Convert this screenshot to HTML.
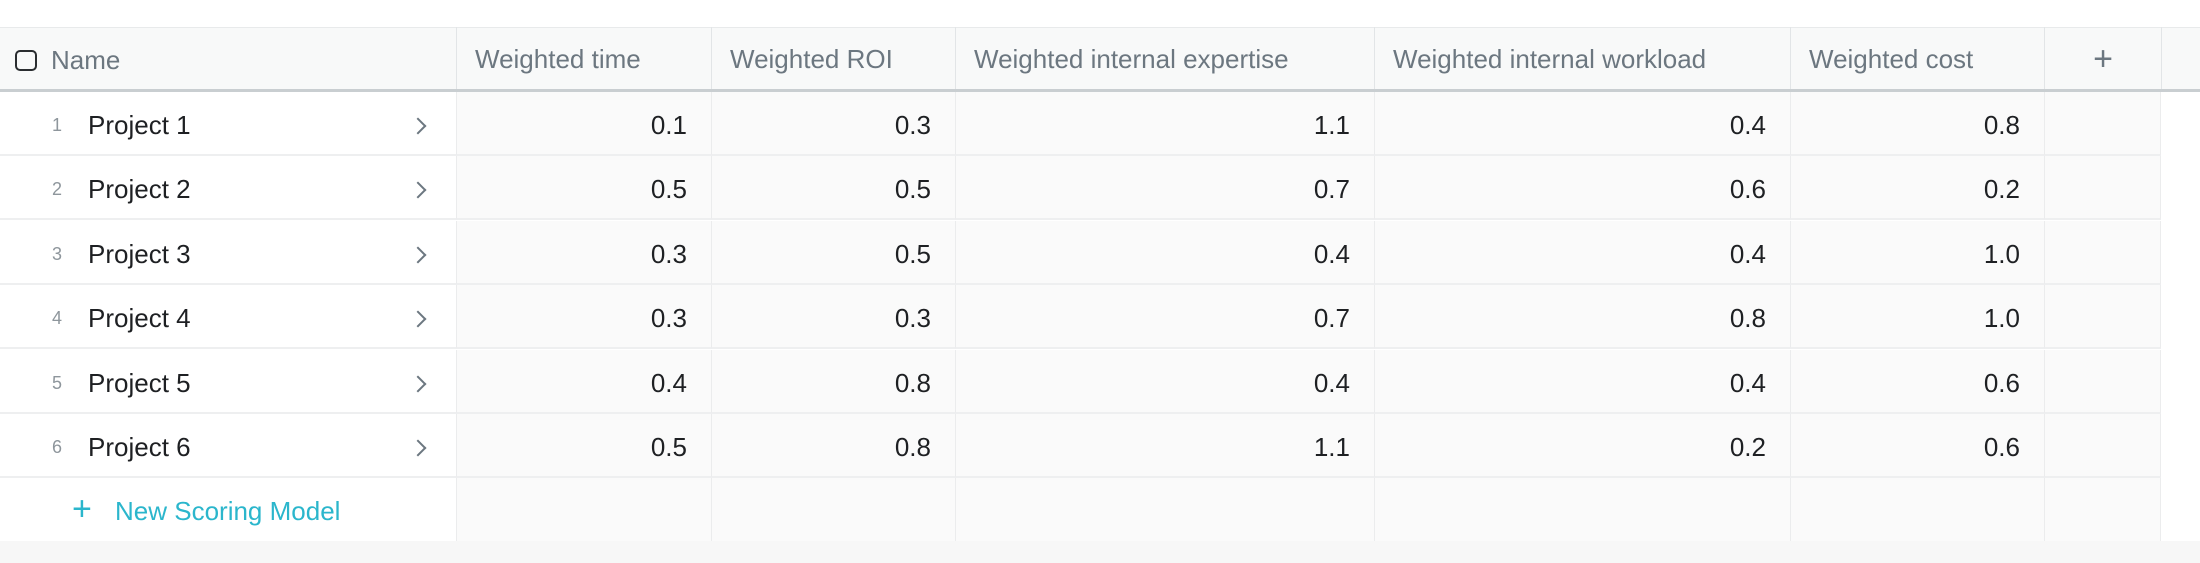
<!DOCTYPE html>
<html><head><meta charset="utf-8"><style>
*{margin:0;padding:0;box-sizing:border-box}
body{width:2200px;height:563px;background:#fff;font-family:"Liberation Sans",sans-serif;position:relative;overflow:hidden}
.a{position:absolute}
.h{position:absolute;top:27px;height:62px;line-height:64px;font-size:26px;color:#6c7780;padding-left:18px;border-left:1px solid #e2e5e7}
.cell{position:absolute;height:64px;background:#fafafa;border-left:1px solid #ebeced;border-bottom:2px solid #eeeff0;text-align:right;padding-right:24px;font-size:26px;color:#1e2023;line-height:67px}
.nc{position:absolute;left:0;width:456px;height:64px;background:#fff;border-bottom:2px solid #eeeff0}
.num{position:absolute;left:52px;font-size:18px;color:#8e969c;line-height:67px;top:0}
.nm{position:absolute;left:88px;font-size:26px;color:#1e2023;line-height:67px;top:0}
.chev{position:absolute;left:412px;top:28px;width:12px;height:12px;border-right:2px solid #6c7780;border-top:2px solid #6c7780;transform:rotate(45deg)}
</style></head><body>
<div class="a" style="left:0;top:541px;width:2200px;height:22px;background:#f7f7f7"></div>
<div class="a" style="left:0;top:27px;width:2200px;height:65px;background:#f8f9f9;border-top:1px solid #e8eaeb;border-bottom:3px solid #c9ced1"></div>
<div class="a" style="left:15px;top:50px;width:22px;height:21px;border:2px solid #2a2d30;border-radius:5px"></div>
<div class="a" style="left:51px;top:28px;line-height:64px;font-size:26px;color:#6c7780">Name</div>
<div class="h" style="left:456px">Weighted time</div>
<div class="h" style="left:711px">Weighted ROI</div>
<div class="h" style="left:955px">Weighted internal expertise</div>
<div class="h" style="left:1374px">Weighted internal workload</div>
<div class="h" style="left:1790px">Weighted cost</div>
<div class="h" style="left:2044px;width:117px;padding:0;text-align:center;font-size:34px">+</div>
<div class="h" style="left:2161px;width:39px"></div>

<div class="nc" style="top:92px"><div class="num">1</div><div class="nm">Project 1</div><div class="chev"></div></div>
<div class="cell" style="top:92px;left:456px;width:255px">0.1</div>
<div class="cell" style="top:92px;left:711px;width:244px">0.3</div>
<div class="cell" style="top:92px;left:955px;width:419px">1.1</div>
<div class="cell" style="top:92px;left:1374px;width:416px">0.4</div>
<div class="cell" style="top:92px;left:1790px;width:254px">0.8</div>
<div class="cell" style="top:92px;left:2044px;width:117px;border-right:1px solid #ebeced"></div>

<div class="nc" style="top:156px"><div class="num">2</div><div class="nm">Project 2</div><div class="chev"></div></div>
<div class="cell" style="top:156px;left:456px;width:255px">0.5</div>
<div class="cell" style="top:156px;left:711px;width:244px">0.5</div>
<div class="cell" style="top:156px;left:955px;width:419px">0.7</div>
<div class="cell" style="top:156px;left:1374px;width:416px">0.6</div>
<div class="cell" style="top:156px;left:1790px;width:254px">0.2</div>
<div class="cell" style="top:156px;left:2044px;width:117px;border-right:1px solid #ebeced"></div>

<div class="nc" style="top:221px"><div class="num">3</div><div class="nm">Project 3</div><div class="chev"></div></div>
<div class="cell" style="top:221px;left:456px;width:255px">0.3</div>
<div class="cell" style="top:221px;left:711px;width:244px">0.5</div>
<div class="cell" style="top:221px;left:955px;width:419px">0.4</div>
<div class="cell" style="top:221px;left:1374px;width:416px">0.4</div>
<div class="cell" style="top:221px;left:1790px;width:254px">1.0</div>
<div class="cell" style="top:221px;left:2044px;width:117px;border-right:1px solid #ebeced"></div>

<div class="nc" style="top:285px"><div class="num">4</div><div class="nm">Project 4</div><div class="chev"></div></div>
<div class="cell" style="top:285px;left:456px;width:255px">0.3</div>
<div class="cell" style="top:285px;left:711px;width:244px">0.3</div>
<div class="cell" style="top:285px;left:955px;width:419px">0.7</div>
<div class="cell" style="top:285px;left:1374px;width:416px">0.8</div>
<div class="cell" style="top:285px;left:1790px;width:254px">1.0</div>
<div class="cell" style="top:285px;left:2044px;width:117px;border-right:1px solid #ebeced"></div>

<div class="nc" style="top:350px"><div class="num">5</div><div class="nm">Project 5</div><div class="chev"></div></div>
<div class="cell" style="top:350px;left:456px;width:255px">0.4</div>
<div class="cell" style="top:350px;left:711px;width:244px">0.8</div>
<div class="cell" style="top:350px;left:955px;width:419px">0.4</div>
<div class="cell" style="top:350px;left:1374px;width:416px">0.4</div>
<div class="cell" style="top:350px;left:1790px;width:254px">0.6</div>
<div class="cell" style="top:350px;left:2044px;width:117px;border-right:1px solid #ebeced"></div>

<div class="nc" style="top:414px"><div class="num">6</div><div class="nm">Project 6</div><div class="chev"></div></div>
<div class="cell" style="top:414px;left:456px;width:255px">0.5</div>
<div class="cell" style="top:414px;left:711px;width:244px">0.8</div>
<div class="cell" style="top:414px;left:955px;width:419px">1.1</div>
<div class="cell" style="top:414px;left:1374px;width:416px">0.2</div>
<div class="cell" style="top:414px;left:1790px;width:254px">0.6</div>
<div class="cell" style="top:414px;left:2044px;width:117px;border-right:1px solid #ebeced"></div>

<div class="nc" style="top:478px;height:63px;border-bottom:none"><div class="nm" style="left:72px;color:#2bb6cc;font-size:34px;line-height:63px">+</div><div class="nm" style="left:115px;color:#2bb6cc;line-height:66px">New Scoring Model</div></div>
<div class="cell" style="top:478px;height:63px;border-bottom:none;left:456px;width:255px"></div>
<div class="cell" style="top:478px;height:63px;border-bottom:none;left:711px;width:244px"></div>
<div class="cell" style="top:478px;height:63px;border-bottom:none;left:955px;width:419px"></div>
<div class="cell" style="top:478px;height:63px;border-bottom:none;left:1374px;width:416px"></div>
<div class="cell" style="top:478px;height:63px;border-bottom:none;left:1790px;width:254px"></div>
<div class="cell" style="top:478px;height:63px;border-bottom:none;left:2044px;width:117px;border-right:1px solid #ebeced"></div>
</body></html>
